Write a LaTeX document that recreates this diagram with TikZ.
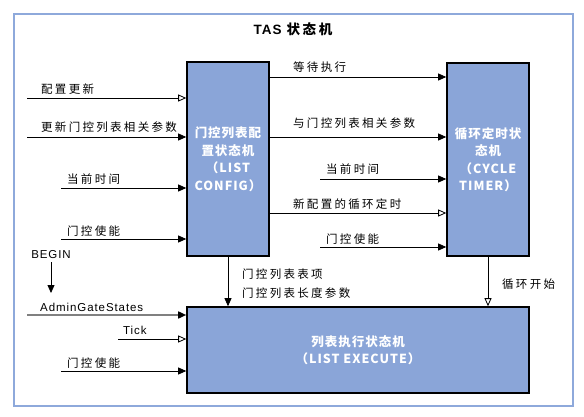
\documentclass[tikz,border=0pt]{standalone}
\usepackage{fontspec}
\setmainfont{Liberation Sans}[LetterSpace=8]
\newfontfamily\cjk{Noto Sans CJK SC}[LetterSpace=20]
\newfontfamily\cjkbox{Noto Sans CJK SC}[LetterSpace=8]
\usetikzlibrary{arrows.meta}
\definecolor{framecol}{HTML}{8EA9DB}
\definecolor{boxcol}{HTML}{8AA5D8}
\definecolor{graycol}{HTML}{808080}
\tikzset{
  frame/.style={draw=framecol, line width=1.2pt},
  blk/.style={draw=black, line width=1.6pt, fill=boxcol, text=white, align=center,
    font=\cjkbox\bfseries\fontsize{12.5}{17.5}\selectfont, inner sep=0pt},
  sig/.style={line width=0.8pt, -{Triangle[length=8pt,width=7pt]}},
  osig/.style={line width=0.8pt, -{Triangle[open,length=8pt,width=7pt,fill=white]}},
  gsig/.style={draw=graycol, line width=1.6pt, -{Triangle[length=8pt,width=7pt,black]}},
  lbl/.style={anchor=west, inner sep=0pt, font=\cjk\fontsize{11.5}{12}\selectfont},
  lat/.style={inner sep=0pt, font=\fontsize{11.5}{12}\selectfont},
  ttl/.style={inner sep=0pt, font=\bfseries\fontsize{13.5}{14}\selectfont}
}
\begin{document}
\begin{tikzpicture}[x=1pt,y=-1pt]
\useasboundingbox (0,0) rectangle (584,417);
\fill[white] (0,0) rectangle (584,417);
\draw[frame] (14,14) rectangle (573,406);
\node[ttl] (title) at (293,29) {TAS {\cjk\bfseries 状态机}};

% boxes
\node[blk, minimum width=82pt, minimum height=194pt] (cfg) at (228,159)
  {门控列表配\\置状态机\\（LIST\\CONFIG）};
\node[blk, minimum width=82pt, minimum height=193pt] (tmr) at (488,159.5)
  {循环定时状\\态机\\（CYCLE\\TIMER）};
\node[blk, minimum width=342pt, minimum height=86pt] (exe) at (358,350)
  {列表执行状态机\\（LIST EXECUTE）};

% inputs to LIST CONFIG
\coordinate (i1) at (27,98);
\coordinate (i2) at (27,137);
\coordinate (i3) at (61,188);
\coordinate (i4) at (61,239);
\draw[osig] (i1) -- (i1 -| cfg.west);
\draw[sig] (i2) -- (i2 -| cfg.west);
\draw[sig] (i3) -- (i3 -| cfg.west);
\draw[sig] (i4) -- (i4 -| cfg.west);
\node[lbl] (li1) at (41,89) {配置更新};
\node[lbl] (li2) at (41,127.5) {更新门控列表相关参数};
\node[lbl] (li3) at (67,179.5) {当前时间};
\node[lbl] (li4) at (67,231) {门控使能};

% between boxes
\coordinate (m1) at (269,77);
\coordinate (m2) at (269,137);
\coordinate (m3) at (320,179);
\coordinate (m4) at (269,213);
\coordinate (m5) at (320,247);
\draw[sig] (m1) -- (m1 -| tmr.west);
\draw[sig] (m2) -- (m2 -| tmr.west);
\draw[sig] (m3) -- (m3 -| tmr.west);
\draw[osig] (m4) -- (m4 -| tmr.west);
\draw[sig] (m5) -- (m5 -| tmr.west);
\node[lbl] (lm1) at (293,67) {等待执行};
\node[lbl] (lm2) at (293,123) {与门控列表相关参数};
\node[lbl] (lm3) at (326,169) {当前时间};
\node[lbl] (lm4) at (293,204) {新配置的循环定时};
\node[lbl] (lm5) at (326,239) {门控使能};

% vertical
\draw[sig] (cfg.south) -- (cfg.south |- exe.north);
\draw[osig] (tmr.south) -- (tmr.south |- exe.north);
\node[lbl] (lv1) at (242,274.5) {门控列表表项};
\node[lbl] (lv2) at (242,293.5) {门控列表长度参数};
\node[lbl] (lv3) at (502,284) {循环开始};

% inputs to LIST EXECUTE
\node[lat] (begin) at (51,255) {BEGIN};
\coordinate (bgend) at (51,293);
\coordinate (bgstart) at (51,262);
\draw[sig] (bgstart) -- (bgend);
\coordinate (e1) at (27,315);
\coordinate (e2) at (118,339);
\coordinate (e3) at (61,371);
\draw[gsig] (e1) -- (e1 -| exe.west);
\draw[osig] (e2) -- (e2 -| exe.west);
\draw[sig] (e3) -- (e3 -| exe.west);
\node[lat, anchor=west] (le1) at (40,307) {AdminGateStates};
\node[lat, anchor=west] (le2) at (123,330) {Tick};
\node[lbl] (le3) at (67,363) {门控使能};
\end{tikzpicture}
\end{document}
